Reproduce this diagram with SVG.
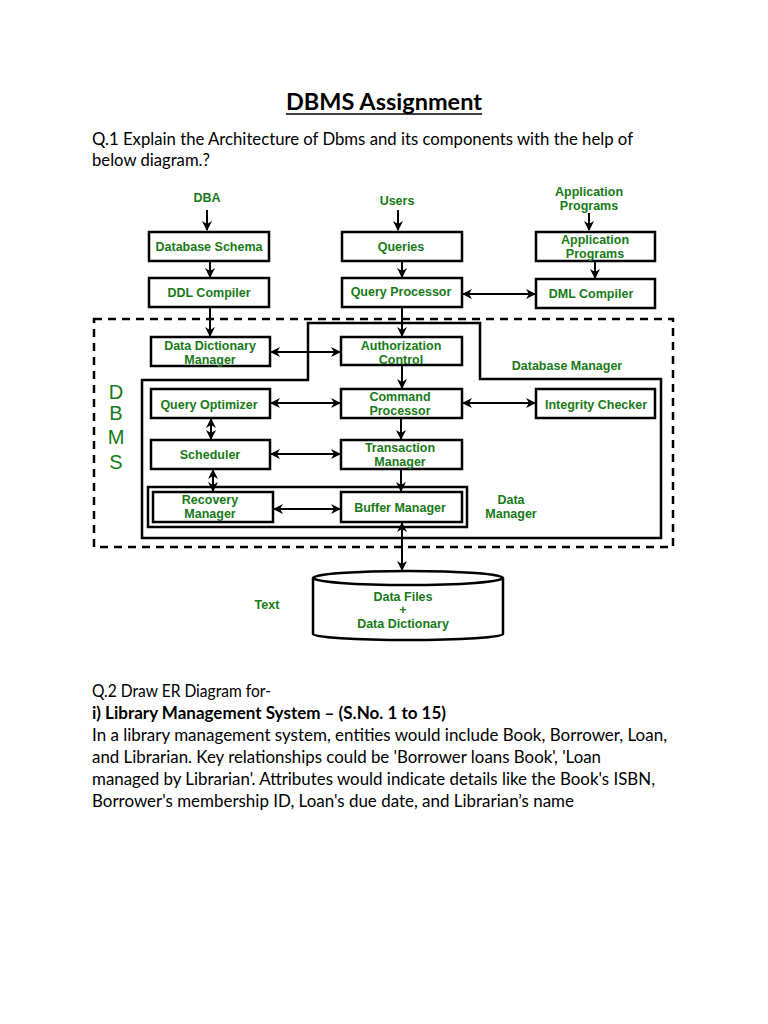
<svg xmlns="http://www.w3.org/2000/svg" width="768" height="1024" viewBox="0 0 768 1024">
<style>
.doc{font-family:Lato,"Liberation Sans",Arial,sans-serif;font-size:16.5px;fill:#000}
.lbl{font-family:"Liberation Sans",Arial,sans-serif;font-size:12.5px;font-weight:bold;fill:#177a17;text-anchor:middle}
.box{fill:#fff;stroke:#000;stroke-width:2.5}
.ln{stroke:#000;stroke-width:2;fill:none}
.big{font-family:"Liberation Sans",Arial,sans-serif;font-size:20px;fill:#177a17;text-anchor:middle}
</style>
<defs>
<marker id="ah" viewBox="0 0 10 10" refX="9" refY="5" markerWidth="10" markerHeight="10" markerUnits="userSpaceOnUse" orient="auto-start-reverse">
<path d="M0,0 L10,5 L0,10 L3,5 z" fill="#000"/>
</marker>
</defs>
<rect width="768" height="1024" fill="#fff"/>

<g id="title">
<text x="384" y="110" text-anchor="middle" style="font-family:Lato,'Liberation Sans',Arial,sans-serif;font-size:23px;font-weight:bold" textLength="196" lengthAdjust="spacingAndGlyphs">DBMS Assignment</text>
<line x1="286" y1="114" x2="482" y2="114" stroke="#000" stroke-width="1.5"/>
</g>
<g id="q1">
<text class="doc" x="92" y="145" textLength="541" lengthAdjust="spacingAndGlyphs">Q.1 Explain the Architecture of Dbms and its components with the help of</text>
<text class="doc" x="92" y="166" textLength="118" lengthAdjust="spacingAndGlyphs">below diagram.?</text>
</g>

<g id="dbms-border">
<rect x="94" y="319" width="579" height="228" fill="none" stroke="#000" stroke-width="2.5" stroke-dasharray="8 6"/>
<text class="big" x="116" y="399">D</text>
<text class="big" x="116" y="420">B</text>
<text class="big" x="116" y="444">M</text>
<text class="big" x="116" y="469">S</text>
</g>

<g id="database-manager">
<path d="M142,380 L308,380 L308,323 L480,323 L480,379 L661,379 L661,538 L142,538 Z" fill="none" stroke="#000" stroke-width="2.5"/>
<text class="lbl" x="567" y="369.5">Database Manager</text>
</g>

<g id="data-manager">
<rect x="148" y="487" width="319" height="40" fill="none" stroke="#000" stroke-width="2.5"/>
<text class="lbl" x="511" y="503.5">Data</text>
<text class="lbl" x="511" y="517.5">Manager</text>
</g>

<g id="dba-label"><text class="lbl" x="207" y="201.5">DBA</text></g>
<g id="users-label"><text class="lbl" x="397" y="204.5">Users</text></g>
<g id="app-label"><text class="lbl" x="589" y="195.5">Application</text><text class="lbl" x="589" y="209.5">Programs</text></g>

<g id="database-schema"><rect class="box" x="149" y="232" width="120" height="29"/><text class="lbl" x="209" y="250.5">Database Schema</text></g>
<g id="ddl-compiler"><rect class="box" x="149" y="278" width="120" height="29"/><text class="lbl" x="209" y="296.5">DDL Compiler</text></g>
<g id="queries"><rect class="box" x="342" y="232" width="120" height="29"/><text class="lbl" x="401" y="250.5">Queries</text></g>
<g id="query-processor"><rect class="box" x="342" y="278" width="120" height="29"/><text class="lbl" x="401" y="295.5">Query Processor</text></g>
<g id="application-programs"><rect class="box" x="536" y="232" width="119" height="29"/><text class="lbl" x="595" y="244">Application</text><text class="lbl" x="595" y="257.5">Programs</text></g>
<g id="dml-compiler"><rect class="box" x="536" y="279" width="119" height="29"/><text class="lbl" x="591" y="297.5">DML Compiler</text></g>

<g id="data-dictionary-manager"><rect class="box" x="151" y="337" width="119" height="29"/><text class="lbl" x="210" y="349.5">Data Dictionary</text><text class="lbl" x="210" y="363.5">Manager</text></g>
<g id="authorization-control"><rect class="box" x="341" y="337" width="121" height="28"/><text class="lbl" x="401" y="349.5">Authorization</text><text class="lbl" x="401" y="364">Control</text></g>
<g id="query-optimizer"><rect class="box" x="151" y="389" width="119" height="29"/><text class="lbl" x="209" y="408.5">Query Optimizer</text></g>
<g id="command-processor"><rect class="box" x="341" y="389" width="121" height="29"/><text class="lbl" x="400" y="401">Command</text><text class="lbl" x="400" y="415">Processor</text></g>
<g id="integrity-checker"><rect class="box" x="536" y="389" width="119" height="29"/><text class="lbl" x="596" y="408.5">Integrity Checker</text></g>
<g id="scheduler"><rect class="box" x="151" y="440" width="119" height="29"/><text class="lbl" x="210" y="458.5">Scheduler</text></g>
<g id="transaction-manager"><rect class="box" x="341" y="440" width="121" height="29"/><text class="lbl" x="400" y="452">Transaction</text><text class="lbl" x="400" y="465.5">Manager</text></g>
<g id="recovery-manager"><rect class="box" x="153" y="492" width="120" height="30"/><text class="lbl" x="210" y="503.5">Recovery</text><text class="lbl" x="210" y="517.5">Manager</text></g>
<g id="buffer-manager"><rect class="box" x="341" y="492" width="121" height="30"/><text class="lbl" x="400" y="511.5">Buffer Manager</text></g>

<g id="data-files">
<path d="M313,578 L313,634 A95,6 0 0 0 503,634 L503,578" fill="#fff" stroke="#000" stroke-width="2.5"/>
<ellipse cx="408" cy="578" rx="95" ry="7" fill="#fff" stroke="#000" stroke-width="2.5"/>
<text class="lbl" x="403" y="601">Data Files</text>
<text class="lbl" x="403" y="614">+</text>
<text class="lbl" x="403" y="627.5">Data Dictionary</text>
</g>
<g id="text-label"><text class="lbl" x="267" y="608.5">Text</text></g>

<g id="connectors" class="ln">
<line x1="207" y1="210" x2="207" y2="230" marker-end="url(#ah)"/>
<line x1="210" y1="261" x2="210" y2="277" marker-end="url(#ah)"/>
<line x1="210" y1="307" x2="210" y2="336" marker-end="url(#ah)"/>
<line x1="398" y1="210" x2="398" y2="230" marker-end="url(#ah)"/>
<line x1="402" y1="261" x2="402" y2="277" marker-end="url(#ah)"/>
<line x1="589" y1="213" x2="589" y2="230" marker-end="url(#ah)"/>
<line x1="595" y1="261" x2="595" y2="278" marker-end="url(#ah)"/>
<line x1="463" y1="294" x2="535" y2="294" marker-start="url(#ah)" marker-end="url(#ah)"/>
<line x1="402" y1="307" x2="402" y2="336" marker-end="url(#ah)"/>
<line x1="271" y1="352" x2="340" y2="352" marker-start="url(#ah)" marker-end="url(#ah)"/>
<line x1="402" y1="365" x2="402" y2="388" marker-end="url(#ah)"/>
<line x1="271" y1="403" x2="340" y2="403" marker-start="url(#ah)" marker-end="url(#ah)"/>
<line x1="463" y1="403" x2="535" y2="403" marker-start="url(#ah)" marker-end="url(#ah)"/>
<line x1="211" y1="419" x2="211" y2="439" marker-start="url(#ah)" marker-end="url(#ah)"/>
<line x1="401" y1="418" x2="401" y2="439" marker-end="url(#ah)"/>
<line x1="271" y1="454" x2="340" y2="454" marker-start="url(#ah)" marker-end="url(#ah)"/>
<line x1="401" y1="469" x2="401" y2="491" marker-end="url(#ah)"/>
<line x1="213" y1="470" x2="213" y2="491" marker-start="url(#ah)" marker-end="url(#ah)"/>
<line x1="274" y1="509" x2="340" y2="509" marker-start="url(#ah)" marker-end="url(#ah)"/>
<line x1="402" y1="523" x2="402" y2="570" marker-start="url(#ah)" marker-end="url(#ah)"/>
</g>

<g id="q2">
<text class="doc" x="92" y="697" textLength="179" lengthAdjust="spacingAndGlyphs">Q.2 Draw ER Diagram for-</text>
<text class="doc" x="92" y="719" font-weight="bold" textLength="354" lengthAdjust="spacingAndGlyphs">i) Library Management System – (S.No. 1 to 15)</text>
<text class="doc" x="92" y="741" textLength="575" lengthAdjust="spacingAndGlyphs">In a library management system, entities would include Book, Borrower, Loan,</text>
<text class="doc" x="92" y="763" textLength="509" lengthAdjust="spacingAndGlyphs">and Librarian. Key relationships could be 'Borrower loans Book', 'Loan</text>
<text class="doc" x="92" y="785" textLength="563" lengthAdjust="spacingAndGlyphs">managed by Librarian'. Attributes would indicate details like the Book's ISBN,</text>
<text class="doc" x="92" y="807" textLength="482" lengthAdjust="spacingAndGlyphs">Borrower's membership ID, Loan's due date, and Librarian’s name</text>
</g>
</svg>
